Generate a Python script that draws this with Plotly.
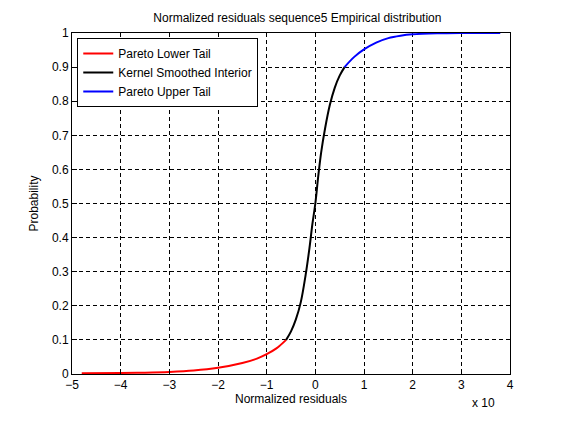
import plotly.graph_objects as go

lower_x = [-4.8, -4.0, -3.5, -3.0, -2.5, -2.0, -1.5, -1.2, -1.0, -0.8, -0.6]
lower_p = [0.002, 0.003, 0.004, 0.006, 0.01, 0.018, 0.032, 0.045, 0.058, 0.075, 0.1]
mid_x = [-0.6, -0.5, -0.4, -0.3, -0.2, -0.12, -0.06, 0.0, 0.06, 0.12, 0.2, 0.3, 0.4, 0.5, 0.6]
mid_p = [0.1, 0.125, 0.16, 0.21, 0.29, 0.37, 0.44, 0.5, 0.58, 0.65, 0.72, 0.79, 0.84, 0.875, 0.9]
upper_x = [0.6, 0.8, 1.0, 1.25, 1.5, 1.75, 2.0, 2.5, 3.0, 3.5, 3.8]
upper_p = [0.9, 0.93, 0.952, 0.972, 0.985, 0.992, 0.996, 0.999, 1.0, 1.0, 1.0]

fig = go.Figure()
fig.add_trace(go.Scatter(x=lower_x, y=lower_p, mode='lines', name='Pareto Lower Tail',
                         line=dict(color='red', width=2, shape='spline')))
fig.add_trace(go.Scatter(x=mid_x, y=mid_p, mode='lines', name='Kernel Smoothed Interior',
                         line=dict(color='black', width=2, shape='spline')))
fig.add_trace(go.Scatter(x=upper_x, y=upper_p, mode='lines', name='Pareto Upper Tail',
                         line=dict(color='blue', width=2, shape='spline')))

axis_style = dict(showline=True, mirror=True, linecolor='black', linewidth=1,
                  showgrid=True, gridcolor='black', griddash='4px,3px', gridwidth=1,
                  ticks='inside', ticklen=5, tickcolor='black', zeroline=False,
                  tickfont=dict(size=12, color='black'))

fig.update_layout(
    width=546, height=406,
    margin=dict(l=64, r=44, t=25, b=40),
    paper_bgcolor='white', plot_bgcolor='white',
    font=dict(family='Arial, Liberation Sans', size=12, color='black'),
    title=dict(text='Normalized residuals sequence5 Empirical distribution',
               x=0.53, xanchor='center', y=0.985, yanchor='top', font=dict(size=12)),
    xaxis=dict(range=[-5, 4], dtick=1, **axis_style,
               title=dict(text='Normalized residuals', standoff=0, font=dict(size=12))),
    yaxis=dict(range=[0, 1], dtick=0.1, **axis_style,
               title=dict(text='Probability', standoff=10, font=dict(size=12))),
    legend=dict(x=0.012, y=0.985, xanchor='left', yanchor='top', bgcolor='white',
                bordercolor='black', borderwidth=1, font=dict(size=12),
                tracegroupgap=0),
    showlegend=True,
)
fig.add_annotation(text='x 10', x=0.97, xref='paper', y=-0.06, yref='paper',
                   xanchor='right', yanchor='top', showarrow=False, font=dict(size=12))

fig.write_html("out.html")
